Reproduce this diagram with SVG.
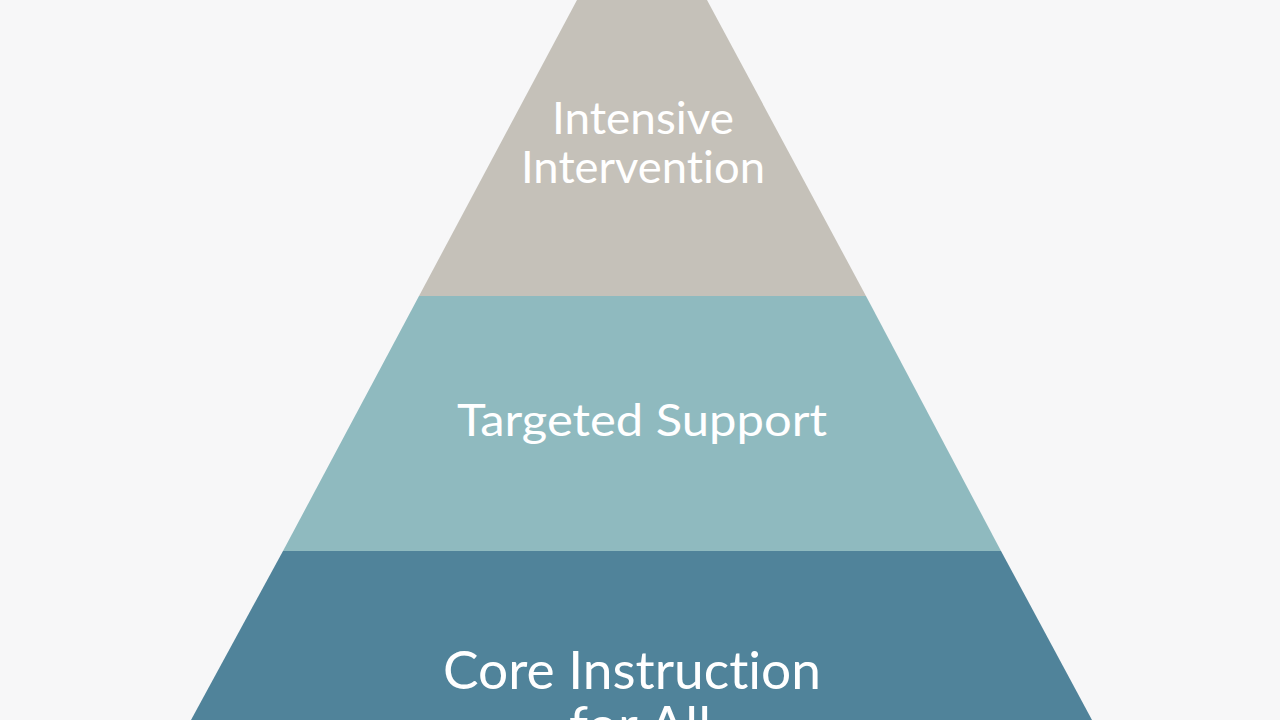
<svg xmlns="http://www.w3.org/2000/svg" width="1280" height="720" viewBox="0 0 1280 720">
<style>
text{font-family:"Lato","Open Sans","Liberation Sans",sans-serif;fill:#fff;text-anchor:middle;font-variant-ligatures:none}
.m{font-size:44px}
.t{font-size:45px}
.l{font-size:52px}
</style>
<rect width="1280" height="720" fill="#f7f7f8"/>
<g id="tier-top">
<polygon points="577,0 707,0 866,296 419,296" fill="#c5c1b9"/>
<text class="m" x="643" y="134" textLength="182" lengthAdjust="spacingAndGlyphs">Intensive</text>
<text class="m" x="643" y="183" textLength="244" lengthAdjust="spacingAndGlyphs">Intervention</text>
</g>
<g id="tier-middle">
<polygon points="419,296 866,296 1001,551 283,551" fill="#8fbabf"/>
<text class="t" x="642" y="436" textLength="370" lengthAdjust="spacingAndGlyphs">Targeted Support</text>
</g>
<g id="tier-bottom">
<polygon points="283,551 1001,551 1092,720 191,720" fill="#50839a"/>
<text class="l" x="632" y="689" textLength="378" lengthAdjust="spacingAndGlyphs">Core Instruction</text>
<text class="l" x="640" y="744" textLength="142" lengthAdjust="spacingAndGlyphs">for All</text>
</g>
</svg>
